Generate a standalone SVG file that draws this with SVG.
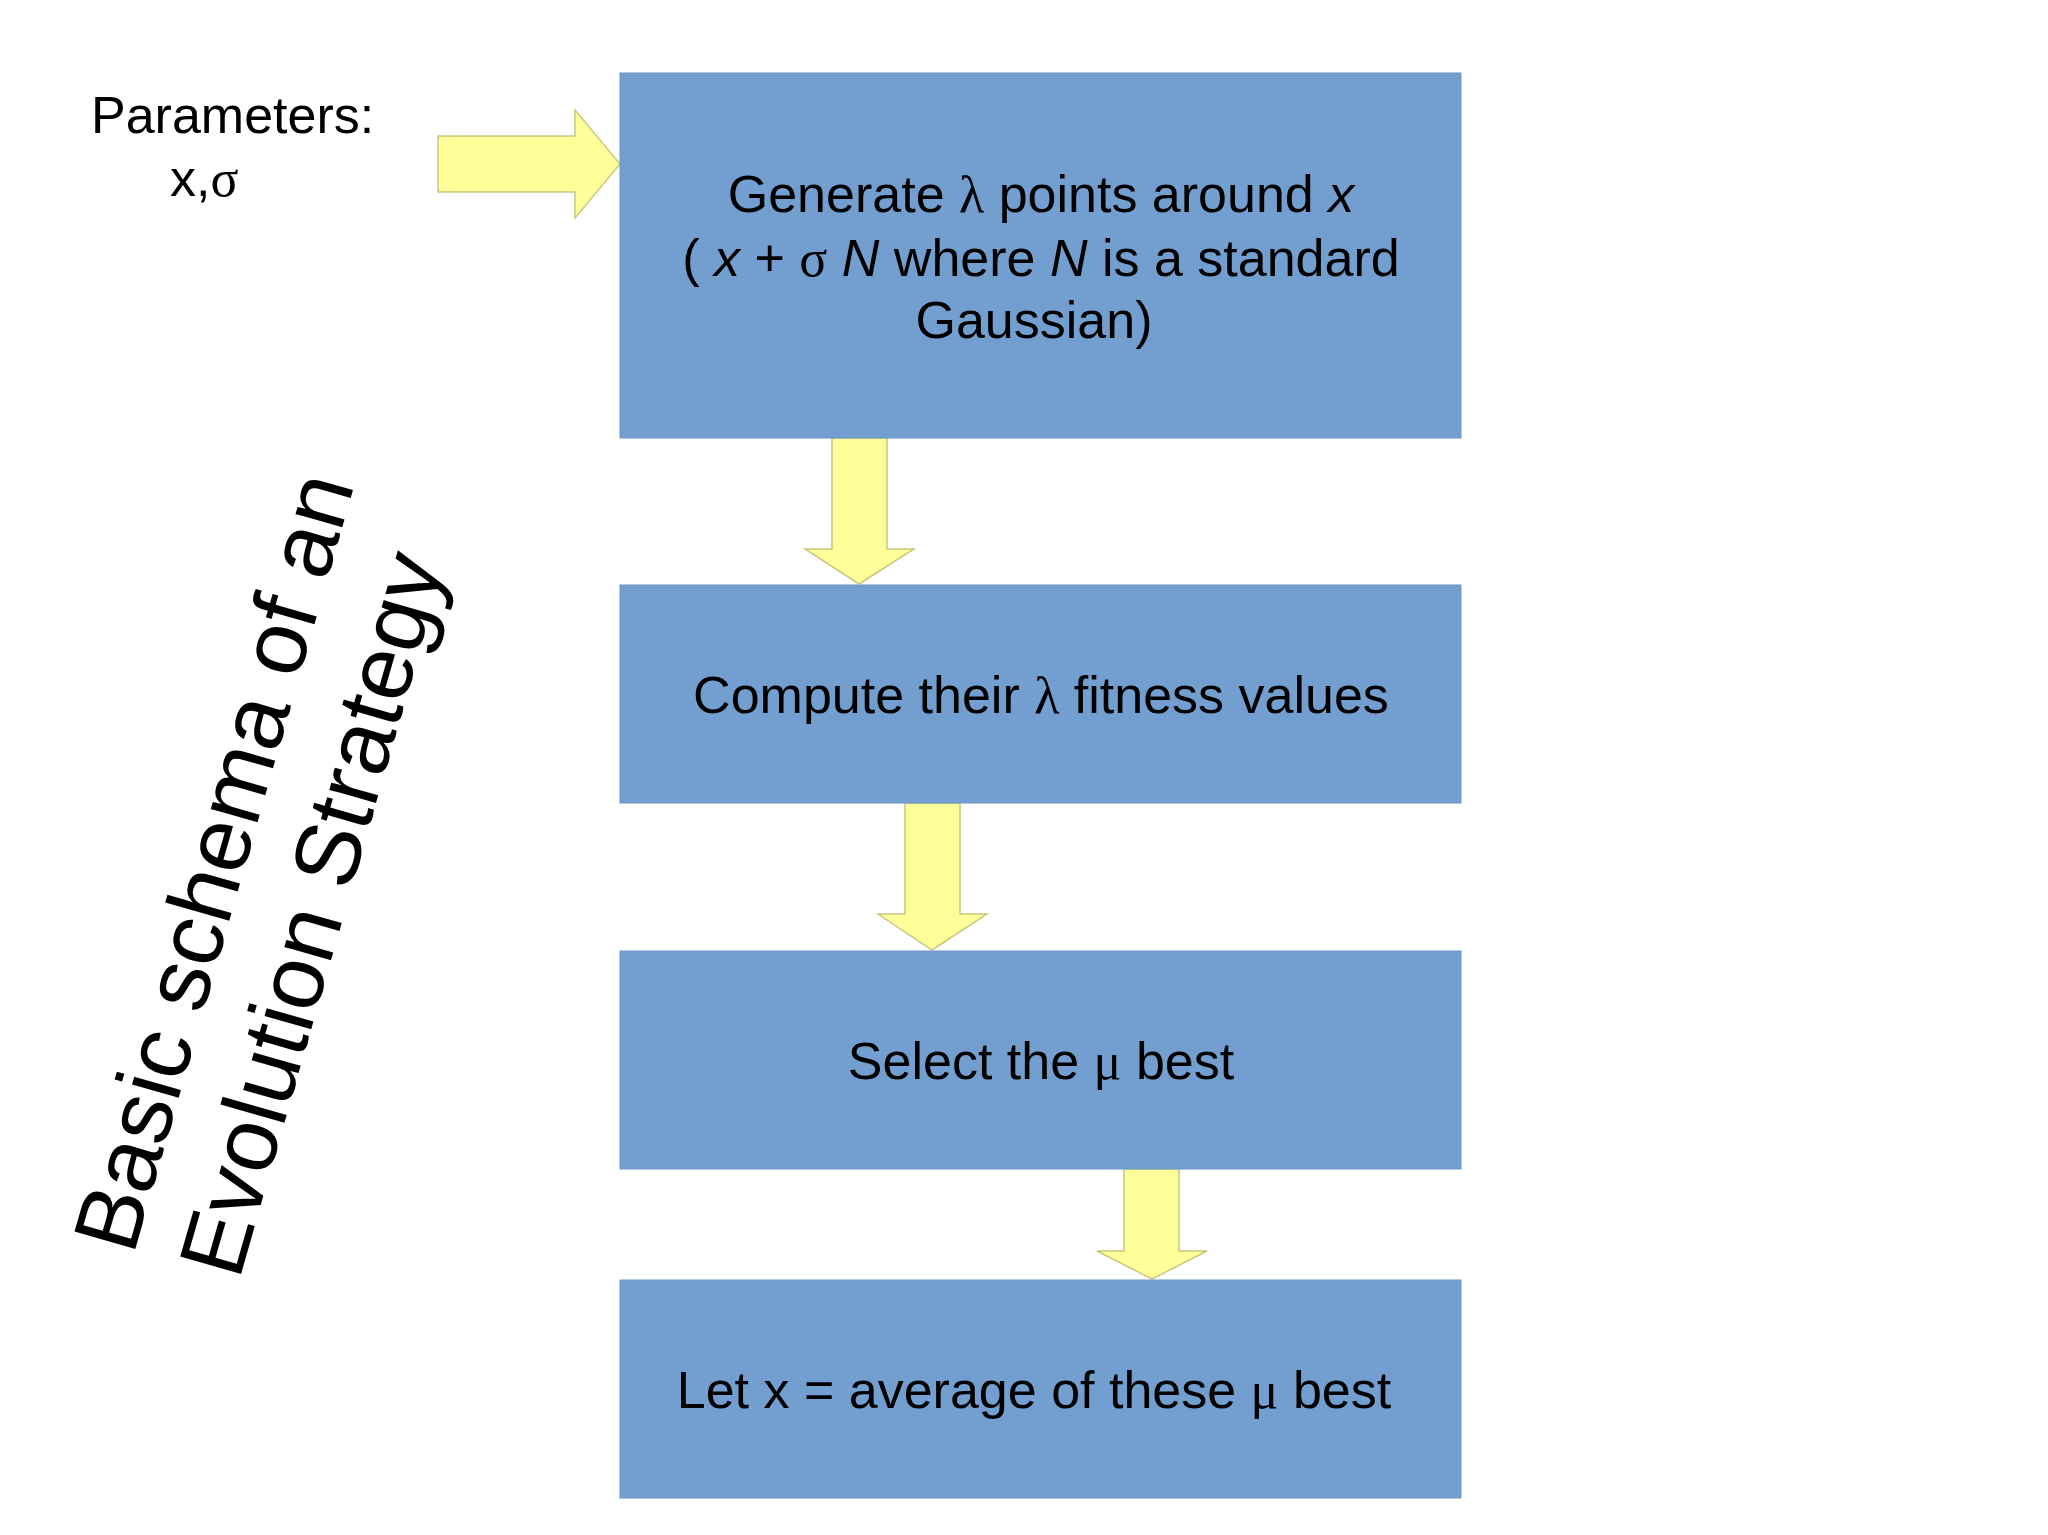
<svg xmlns="http://www.w3.org/2000/svg" width="2048" height="1535" viewBox="0 0 2048 1535">
<style>
.box{fill:#729fcf;stroke:#6d96c4;stroke-width:1}
.arr{fill:#ffff99;stroke:#c8c880;stroke-width:1.5}
text{font-family:"Liberation Sans",Arial,sans-serif;fill:#000}
.t{font-size:52px;text-anchor:middle}
.g{font-family:"Liberation Serif","Times New Roman",serif}
.title{font-size:92px;text-anchor:middle}
</style>
<rect width="2048" height="1535" fill="#fff"/>
<g id="connectors">
<polygon class="arr" points="438,136 575,136 575,110 620,164 575,218 575,192 438,192"/>
<polygon class="arr" points="832,438 887,438 887,549 914,549 859,584 805,549 832,549"/>
<polygon class="arr" points="905,803 960,803 960,914 987,914 932,950 878,914 905,914"/>
<polygon class="arr" points="1124,1169 1179,1169 1179,1251 1207,1251 1152,1279 1097,1251 1124,1251"/>
</g>
<g id="params">
<text x="91" y="133" font-size="52">Parameters:</text>
<text x="170" y="196" font-size="52">x,<tspan class="g">σ</tspan></text>
</g>
<g id="node1">
<rect class="box" x="620" y="73" width="841" height="365"/>
<text class="t" x="1041" y="212">Generate <tspan class="g">λ</tspan> points around <tspan font-style="italic">x</tspan></text>
<text class="t" x="1041" y="276">( <tspan font-style="italic">x</tspan> + <tspan class="g">σ</tspan> <tspan font-style="italic">N</tspan> where <tspan font-style="italic">N</tspan> is a standard</text>
<text class="t" x="1034" y="338">Gaussian)</text>
</g>
<g id="node2">
<rect class="box" x="620" y="585" width="841" height="218"/>
<text class="t" x="1041" y="713">Compute their <tspan class="g">λ</tspan> fitness values</text>
</g>
<g id="node3">
<rect class="box" x="620" y="951" width="841" height="218"/>
<text class="t" x="1041" y="1079">Select the <tspan class="g">μ</tspan> best</text>
</g>
<g id="node4">
<rect class="box" x="620" y="1280" width="841" height="218"/>
<text class="t" x="1034" y="1408">Let x = average of these <tspan class="g">μ</tspan> best</text>
</g>
<g id="title">
<text class="title" transform="translate(215,862) rotate(-74)" dy="30">Basic schema of an</text>
<text class="title" transform="translate(313,914) rotate(-74)" dy="30">Evolution Strategy</text>
</g>
</svg>
